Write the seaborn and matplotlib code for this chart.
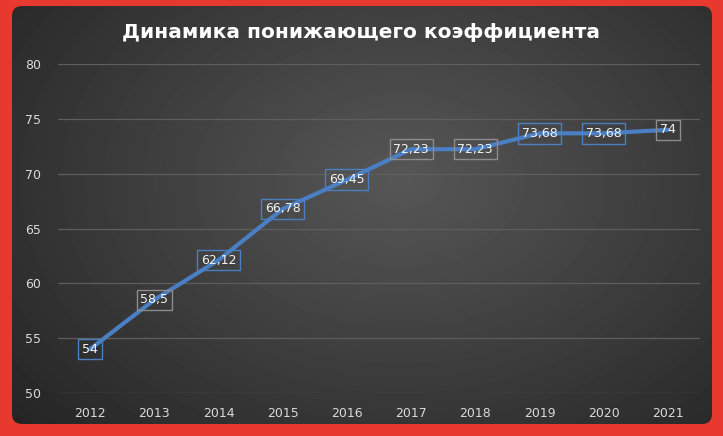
import numpy as np
import pandas as pd
import matplotlib
matplotlib.use("Agg")
import matplotlib.pyplot as plt
from matplotlib.patches import FancyBboxPatch
import seaborn as sns

years = ['2012', '2013', '2014', '2015', '2016', '2017', '2018', '2019', '2020', '2021']
values = [54, 58.5, 62.12, 66.78, 69.45, 72.23, 72.23, 73.68, 73.68, 74]
labels = ['54', '58,5', '62,12', '66,78', '69,45', '72,23', '72,23', '73,68', '73,68', '74']
box_colors = ['#4a7fc4', '#8c8c8c', '#4a7fc4', '#4a7fc4', '#4a7fc4',
              '#8c8c8c', '#8c8c8c', '#4a7fc4', '#4a7fc4', '#8c8c8c']

df = pd.DataFrame({'year': years, 'value': values})

sns.set_theme(style="dark")
plt.rcParams['font.family'] = ['DejaVu Sans']

fig = plt.figure(figsize=(7.23, 4.36), dpi=100)
fig.patch.set_facecolor('#e8392f')

# dark panel with radial gradient
bg = fig.add_axes([0, 0, 1, 1])
bg.set_xlim(0, 723)
bg.set_ylim(436, 0)
bg.axis('off')
yy, xx = np.mgrid[0:436, 0:723]
r = np.sqrt(((xx - 400) / 420) ** 2 + ((yy - 180) / 300) ** 2)
img = np.clip(0.34 - 0.16 * r, 0.13, 0.36)
im = bg.imshow(img, cmap='gray', vmin=0, vmax=1, extent=(0, 723, 436, 0), zorder=1)
panel = FancyBboxPatch((12, 6), 700, 418, boxstyle="round,pad=0,rounding_size=10",
                       transform=bg.transData, facecolor='none', edgecolor='none')
bg.add_patch(panel)
im.set_clip_path(panel)

ax = fig.add_axes([58 / 723, 1 - 393 / 436, 642 / 723, 329 / 436])
ax.patch.set_alpha(0)
sns.lineplot(data=df, x='year', y='value', ax=ax, color='#4a7fc4', linewidth=3, sort=False)
ax.set_ylim(50, 80)
ax.set_xlim(-0.5, 9.5)
ax.set_yticks(range(50, 81, 5))
ax.yaxis.grid(True, color='#5e5e5e', linewidth=0.9)
ax.xaxis.grid(False)
for s in ax.spines.values():
    s.set_visible(False)
ax.set_xlabel('')
ax.set_ylabel('')
ax.tick_params(colors='#d9d9d9', labelsize=9, length=0)
ax.tick_params(axis='y', pad=12)
ax.tick_params(axis='x', pad=10)

for i, (v, lab) in enumerate(zip(values, labels)):
    ax.text(i, v, lab, ha='center', va='center', color='#f2f2f2', fontsize=9,
            bbox=dict(boxstyle='square,pad=0.3', facecolor='none',
                      edgecolor=box_colors[i], linewidth=1))

fig.text(0.5, 1 - 33 / 436, 'Динамика понижающего коэффициента', ha='center', va='center',
         color='white', fontsize=14.5, fontweight='bold')

fig.savefig('out.png', dpi=100, facecolor=fig.get_facecolor())
